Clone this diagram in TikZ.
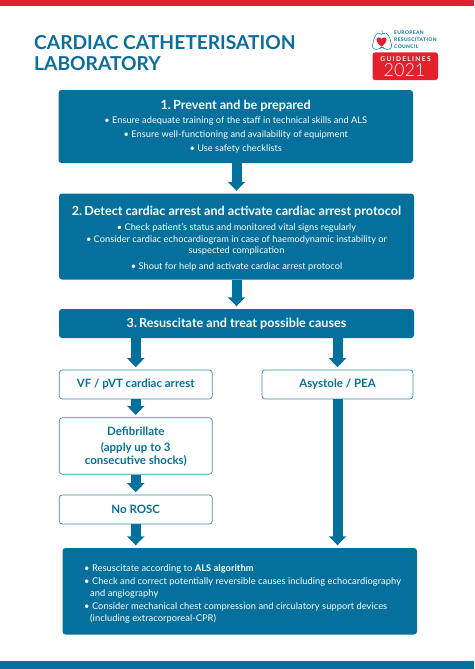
\documentclass[tikz,border=0pt]{standalone}
\usepackage{fontspec}
\setmainfont{Lato}
\newfontfamily\lightfont{Lato Light}
\usetikzlibrary{arrows.meta}
\definecolor{ercblue}{HTML}{05709C}
\definecolor{ercred}{HTML}{E4202C}
\definecolor{titleblue}{HTML}{0B6E9C}
\tikzset{
 solidbox/.style={draw=none,fill=ercblue,rounded corners=3pt,text=white,inner sep=0pt,align=center,font=\fontsize{9.2}{11}\selectfont\addfontfeature{LetterSpace=0.6}},
 outlinebox/.style={draw=ercblue!80!white,line width=0.7pt,fill=white,rounded corners=3pt,text=ercblue,inner sep=0pt,align=center,font=\fontsize{11.5}{13}\selectfont\bfseries},
 flowarrow/.style={draw=ercblue,line width=10pt,-{Triangle[width=17pt,length=9pt,fill=ercblue]},shorten >=2.5pt},
 logotext/.style={text=ercblue,font=\fontsize{5}{5}\selectfont\bfseries\addfontfeature{LetterSpace=7},anchor=west,inner sep=0pt},
}
\newcommand{\hd}[1]{{\fontsize{12.6}{14}\selectfont\bfseries\addfontfeature{LetterSpace=0}#1}}
\begin{document}
\begin{tikzpicture}[x=1pt,y=-1pt]
\useasboundingbox (0,0) rectangle (474,669);
\fill[ercred] (0,0) rectangle (474,6);
\fill[ercblue] (0,661) rectangle (474,669);
\node[anchor=north west,inner sep=0pt,text=titleblue,align=left,font=\fontsize{19.2}{21}\selectfont\bfseries] (title) at (34,35.5) {CARDIAC CATHETERISATION\\LABORATORY};
% logo
\draw[ercblue,line width=0.5pt,rounded corners=2.5pt] (382,30.5) -- (382,35) -- (386,32) -- (390,38) -- (392,48) -- (387,50) -- (383,47.5) -- (381,47.5) -- (377,50) -- (372,48) -- (374,38) -- (378,32) -- (382,35);
\fill[ercred] (381.5,46.5) .. controls (378,44) and (376.5,42) .. (376.5,40) .. controls (376.5,37) and (380,36.5) .. (381.5,39) .. controls (383,36.5) and (386.5,37) .. (386.5,40) .. controls (386.5,42) and (385,44) .. (381.5,46.5) -- cycle;
\node[logotext] (erc1) at (394,33) {EUROPEAN};
\node[logotext] (erc2) at (394,39.7) {RESUSCITATION};
\node[logotext] (erc3) at (394,46.6) {COUNCIL};
\fill[ercred,rounded corners=2.5pt] (372.5,52.5) -- (372.5,80) -- (438,80) -- (438,52.5) -- cycle;
\node[text=white,inner sep=0pt,font=\fontsize{6.6}{7}\selectfont\bfseries\addfontfeature{LetterSpace=20}] (gl) at (405.5,58.7) {GUIDELINES};
\node[text=white,inner sep=0pt,font=\lightfont\fontsize{18}{18}\selectfont] (yr) at (404.5,70.5) {2021};
% boxes
\node[solidbox,minimum width=354.5pt,minimum height=73pt] (b1) at (235.75,126.5) {\hd{1.\,Prevent and be prepared}\\[2.5pt]
• Ensure adequate training of the staff in technical skills and ALS\\[3pt]
• Ensure well-functioning and availability of equipment\\[3pt]
• Use safety checklists};
\node[solidbox,minimum width=355pt,minimum height=86pt] (b2) at (236.5,236.5) {\mbox{}\\[3pt]\hd{2.\,Detect cardiac arrest and activate cardiac arrest protocol}\\[4pt]
• Check patient’s status and monitored vital signs regularly\\[1.5pt]
• Consider cardiac echocardiogram in case of haemodynamic instability or\\
suspected complication\\[5pt]
• Shout for help and activate cardiac arrest protocol};
\node[solidbox,minimum width=355pt,minimum height=29pt] (b3) at (236.5,323.5) {\hd{3.\,Resuscitate and treat possible causes}};
\node[outlinebox,minimum width=153pt,minimum height=29pt] (vf) at (135.75,384.5) {VF / pVT cardiac arrest};
\node[outlinebox,minimum width=151pt,minimum height=29pt] (as) at (337.5,384.5) {Asystole / PEA};
\node[outlinebox,minimum width=153pt,minimum height=56.5pt] (de) at (135.75,446) {\mbox{}\\[-3pt]Defibrillate\\[3.5pt](apply up to 3\\consecutive shocks)};
\node[outlinebox,minimum width=153pt,minimum height=29pt] (no) at (135.75,509.5) {No ROSC};
\node[solidbox,minimum width=354.5pt,minimum height=86.5pt] (b4) at (239.75,591.25) {};
\node[inner sep=0pt,text=white,anchor=west,align=left,font=\fontsize{9.3}{12}\selectfont\addfontfeature{LetterSpace=0.6}] (b4t) at (84,594) {%
• Resuscitate according to \textbf{ALS algorithm}\\[1pt]
• Check and correct potentially reversible causes including echocardiography\\
\hspace*{6pt}and angiography\\[1.5pt]
• Consider mechanical chest compression and circulatory support devices\\
\hspace*{6pt}(including extracorporeal-CPR)};
% arrows
\draw[flowarrow] (b1.south -| b2) -- (b2.north);
\draw[flowarrow] (b2.south) -- (b3.north);
\draw[flowarrow] (b3.south -| vf) -- (vf.north);
\draw[flowarrow] (b3.south -| as) -- (as.north);
\draw[flowarrow] (vf.south) -- (de.north);
\draw[flowarrow] (de.south) -- (no.north);
\draw[flowarrow] (no.south) -- (b4.north -| no);
\draw[flowarrow] (as.south) -- (b4.north -| as);
\end{tikzpicture}
\end{document}
